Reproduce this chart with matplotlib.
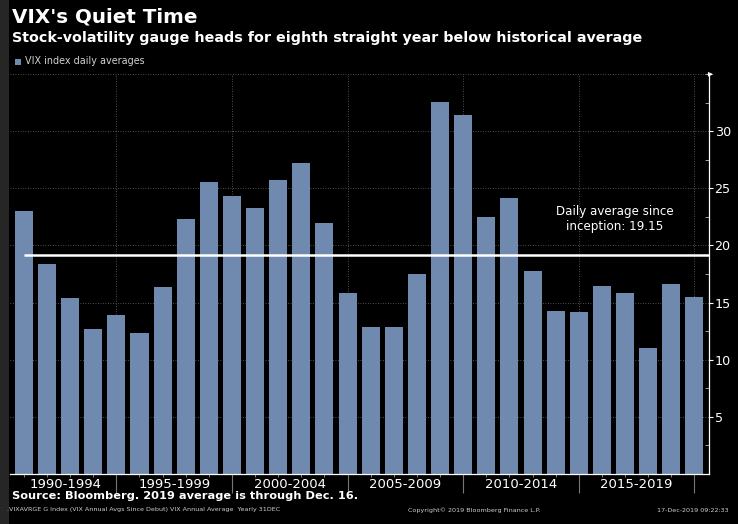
import matplotlib
matplotlib.use("Agg")
import matplotlib.pyplot as plt
from matplotlib.ticker import MultipleLocator, FixedLocator, NullFormatter

years = list(range(1990, 2020))
vix_avg = [23.05, 18.36, 15.42, 12.65, 13.93, 12.36, 16.38, 22.35, 25.59, 24.30,
           23.31, 25.73, 27.25, 21.94, 15.86, 12.82, 12.82, 17.52, 32.60, 31.40,
           22.50, 24.13, 17.75, 14.22, 14.16, 16.47, 15.86, 11.05, 16.58, 15.47]
group_labels = ["1990-1994", "1995-1999", "2000-2004", "2005-2009", "2010-2014", "2015-2019"]
inception_avg = 19.15
y_ticks = [5, 10, 15, 20, 25, 30]

W, H = 738, 524
fig = plt.figure(figsize=(W / 100, H / 100), dpi=100, facecolor="black")

# gray left border strip
fig.patches.append(plt.Rectangle((0, 0), 9 / W, 1, transform=fig.transFigure,
                                 facecolor="#262626", edgecolor="none", zorder=0))

ax = fig.add_axes([10 / W, (H - 473.7) / H, (709 - 10) / W, (473.7 - 74.3) / H])
ax.set_facecolor("black")

x = list(range(len(years)))
bar_color = "#7089AE"
ax.bar(x, vix_avg, width=0.78, color=bar_color, zorder=2)

ax.set_xlim(-0.6, len(years) - 0.37)
ax.set_ylim(0, 35)

# average line
ax.plot([0, len(years) - 0.37], [inception_avg, inception_avg], color="white", lw=1.8, zorder=3,
        solid_capstyle="butt")
ax.text(25.55, 22.3, "Daily average since\ninception: %.2f" % inception_avg, color="white",
        ha="center", va="center", fontsize=8.6, linespacing=1.25, zorder=4)

# grid
for v in y_ticks + [35]:
    ax.axhline(v, color="#6a6a6a", lw=0.6, ls=(0, (1, 2)), zorder=1)
bounds = [4, 9, 14, 19, 24, 29]
for b in bounds:
    ax.axvline(b, color="#6a6a6a", lw=0.6, ls=(0, (1, 2)), zorder=1)

# spines
for s in ["left", "top"]:
    ax.spines[s].set_visible(False)
ax.spines["bottom"].set_color("white")
ax.spines["right"].set_color("white")
ax.spines["bottom"].set_linewidth(0.9)
ax.spines["right"].set_linewidth(0.9)

# y axis on right
ax.yaxis.tick_right()
ax.yaxis.set_major_locator(FixedLocator(y_ticks))
ax.yaxis.set_minor_locator(MultipleLocator(2.5))
ax.tick_params(axis="y", which="major", direction="out", length=3, color="white",
               labelcolor="white", labelsize=9.2, pad=1)
ax.tick_params(axis="y", which="minor", direction="in", length=3, color="#bbbbbb")
ax.annotate("", xy=(1.0 + 4 / 699, 1.0), xycoords="axes fraction", xytext=(1.0, 1.0),
            arrowprops=dict(arrowstyle="-|>", color="white", lw=0.8, mutation_scale=6))

# x axis: group boundary ticks, labels between
ax.xaxis.set_major_locator(FixedLocator(bounds))
ax.xaxis.set_major_formatter(NullFormatter())
ax.xaxis.set_minor_locator(FixedLocator(x))
ax.xaxis.set_minor_formatter(NullFormatter())
ax.tick_params(axis="x", which="major", direction="out", length=14, color="#777777", width=0.8)
ax.tick_params(axis="x", which="minor", direction="out", length=2, color="#999999", width=0.6)
label_pos = [1.8, 6.5, 11.5, 16.5, 21.5, 26.5]
for lp, lab in zip(label_pos, group_labels):
    ax.text(lp, -0.01, lab, transform=ax.get_xaxis_transform(), ha="center", va="top",
            color="white", fontsize=9.5)

# titles
fig.text(12 / W, 1 - 17 / H, "VIX's Quiet Time", color="white", fontsize=14.3,
         fontweight="bold", ha="left", va="center")
fig.text(12 / W, 1 - 38 / H,
         "Stock-volatility gauge heads for eighth straight year below historical average",
         color="white", fontsize=10.3, fontweight="bold", ha="left", va="center")
# legend
fig.patches.append(plt.Rectangle((15 / W, 1 - 64.5 / H), 6 / W, 6 / H, transform=fig.transFigure,
                                 facecolor=bar_color, edgecolor="none"))
fig.text(25 / W, 1 - 61.5 / H, "VIX index daily averages", color="#d0d0d0", fontsize=6.9,
         ha="left", va="center")

# footer
fig.text(12 / W, 1 - 496 / H, "Source: Bloomberg. 2019 average is through Dec. 16.",
         color="white", fontsize=8.2, fontweight="bold", ha="left", va="center")
fig.text(7 / W, 1 - 510 / H,
         ".VIXAVRGE G Index (VIX Annual Avgs Since Debut) VIX Annual Average  Yearly 31DEC",
         color="#cfcfcf", fontsize=4.6, ha="left", va="center")
fig.text(408 / W, 1 - 510 / H, "Copyright\u00a9 2019 Bloomberg Finance L.P.",
         color="#cfcfcf", fontsize=4.6, ha="left", va="center")
fig.text(729 / W, 1 - 510 / H, "17-Dec-2019 09:22:33",
         color="#cfcfcf", fontsize=4.6, ha="right", va="center")

fig.savefig("out.png", dpi=100, facecolor="black")
